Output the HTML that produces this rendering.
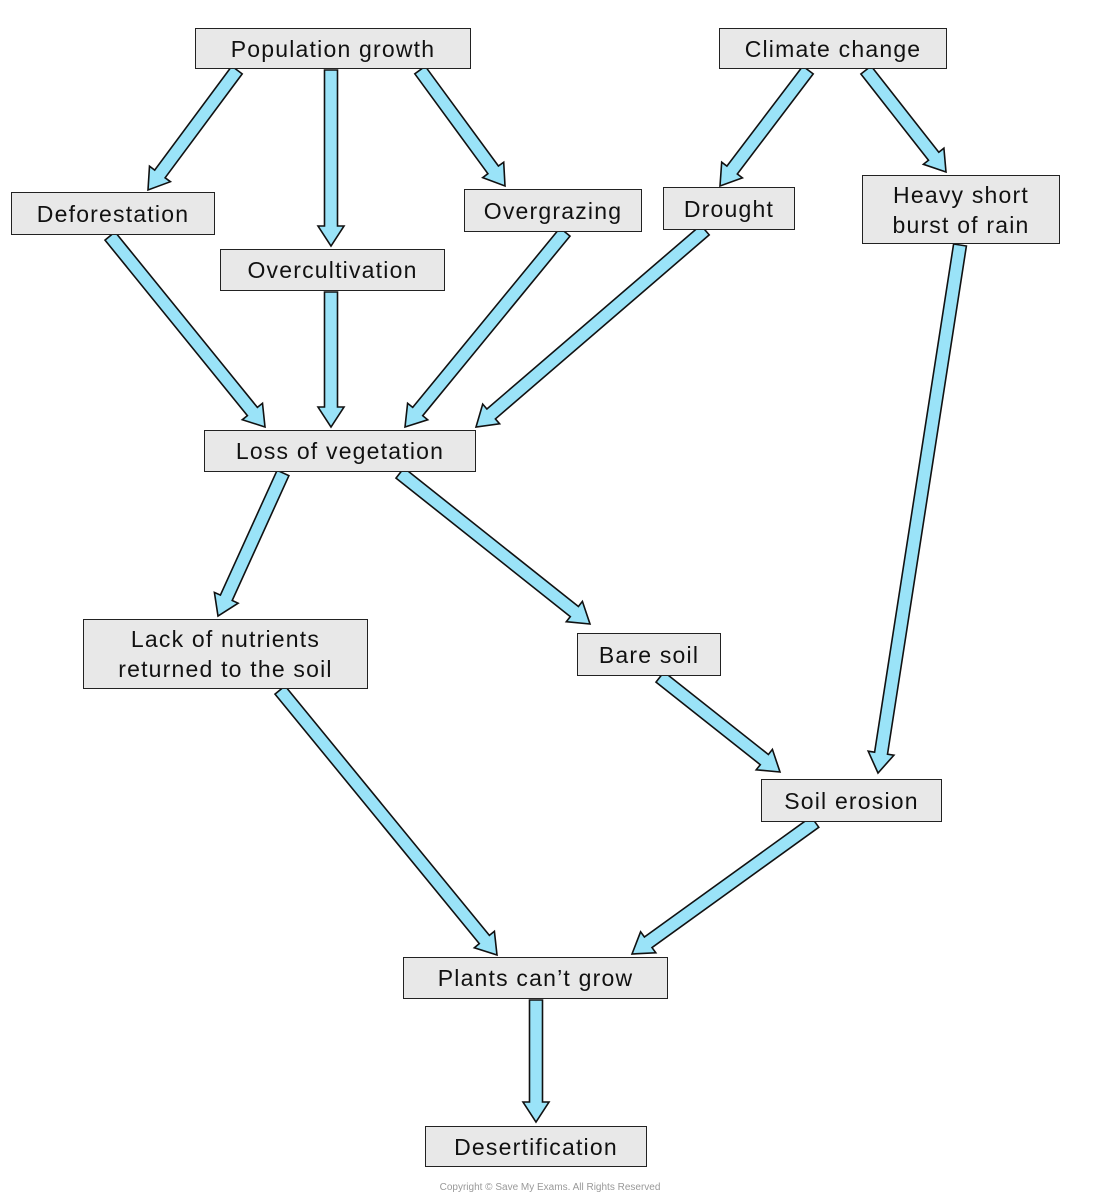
<!DOCTYPE html>
<html><head><meta charset="utf-8"><style>
html,body{margin:0;padding:0;background:#fff;}
#wrap{position:relative;width:1100px;height:1200px;overflow:hidden;}
svg{position:absolute;left:0;top:0;}
.b{position:absolute;background:#e8e8e8;border:1.5px solid #222;box-sizing:border-box;display:flex;align-items:center;justify-content:center;text-align:center;font-family:"Liberation Sans",sans-serif;font-size:23px;letter-spacing:1.2px;line-height:30px;color:#111;}
.c{position:absolute;left:0;width:1100px;top:1182px;text-align:center;font-family:"Liberation Sans",sans-serif;font-size:10px;color:#999;}
</style></head><body><div id="wrap">
<svg id="s" width="1100" height="1200" xmlns="http://www.w3.org/2000/svg"></svg>
<div class="b" style="left:195px;top:28px;width:276px;height:41px">Population growth</div>
<div class="b" style="left:719px;top:28px;width:228px;height:41px">Climate change</div>
<div class="b" style="left:11px;top:192px;width:204px;height:43px">Deforestation</div>
<div class="b" style="left:220px;top:249px;width:225px;height:42px">Overcultivation</div>
<div class="b" style="left:464px;top:189px;width:178px;height:43px">Overgrazing</div>
<div class="b" style="left:663px;top:187px;width:132px;height:43px">Drought</div>
<div class="b" style="left:862px;top:175px;width:198px;height:69px">Heavy short<br>burst of rain</div>
<div class="b" style="left:204px;top:430px;width:272px;height:42px">Loss of vegetation</div>
<div class="b" style="left:83px;top:619px;width:285px;height:70px">Lack of nutrients<br>returned to the soil</div>
<div class="b" style="left:577px;top:633px;width:144px;height:43px">Bare soil</div>
<div class="b" style="left:761px;top:779px;width:181px;height:43px">Soil erosion</div>
<div class="b" style="left:403px;top:957px;width:265px;height:42px">Plants can’t grow</div>
<div class="b" style="left:425px;top:1126px;width:222px;height:41px">Desertification</div>
<div class="c">Copyright © Save My Exams. All Rights Reserved</div>
</div>
<script>
var A=[[237,70,148,190],[331,70,331,246],[420,70,505,186],[808,70,720,186],[866,70,946,172],
[110,236,265,427],[331,292,331,427],[565,232,405,427],[705,230,476,427],[960,245,878,773],
[283,473,218,616],[400,473,590,624],[660,677,780,772],[280,690,497,955],[815,822,632,954],[536,1000,536,1122]];
var s=document.getElementById('s'),h='';
A.forEach(function(a){var x1=a[0],y1=a[1],x2=a[2],y2=a[3],dx=x2-x1,dy=y2-y1,L=Math.hypot(dx,dy),ux=dx/L,uy=dy/L,px=-uy,py=ux,w=6.5,hw=13,hl=20;
var bx=x2-ux*hl,by=y2-uy*hl;function p(x,y){return x.toFixed(1)+','+y.toFixed(1);}
var pts=[p(x1+px*w,y1+py*w),p(bx+px*w,by+py*w),p(bx+px*hw,by+py*hw),p(x2,y2),p(bx-px*hw,by-py*hw),p(bx-px*w,by-py*w),p(x1-px*w,y1-py*w)];
h+='<polygon points="'+pts.join(' ')+'" fill="#9ae3f8" stroke="#111" stroke-width="1.6" stroke-linejoin="miter"/>';});
s.innerHTML=h;
</script>
</body></html>
